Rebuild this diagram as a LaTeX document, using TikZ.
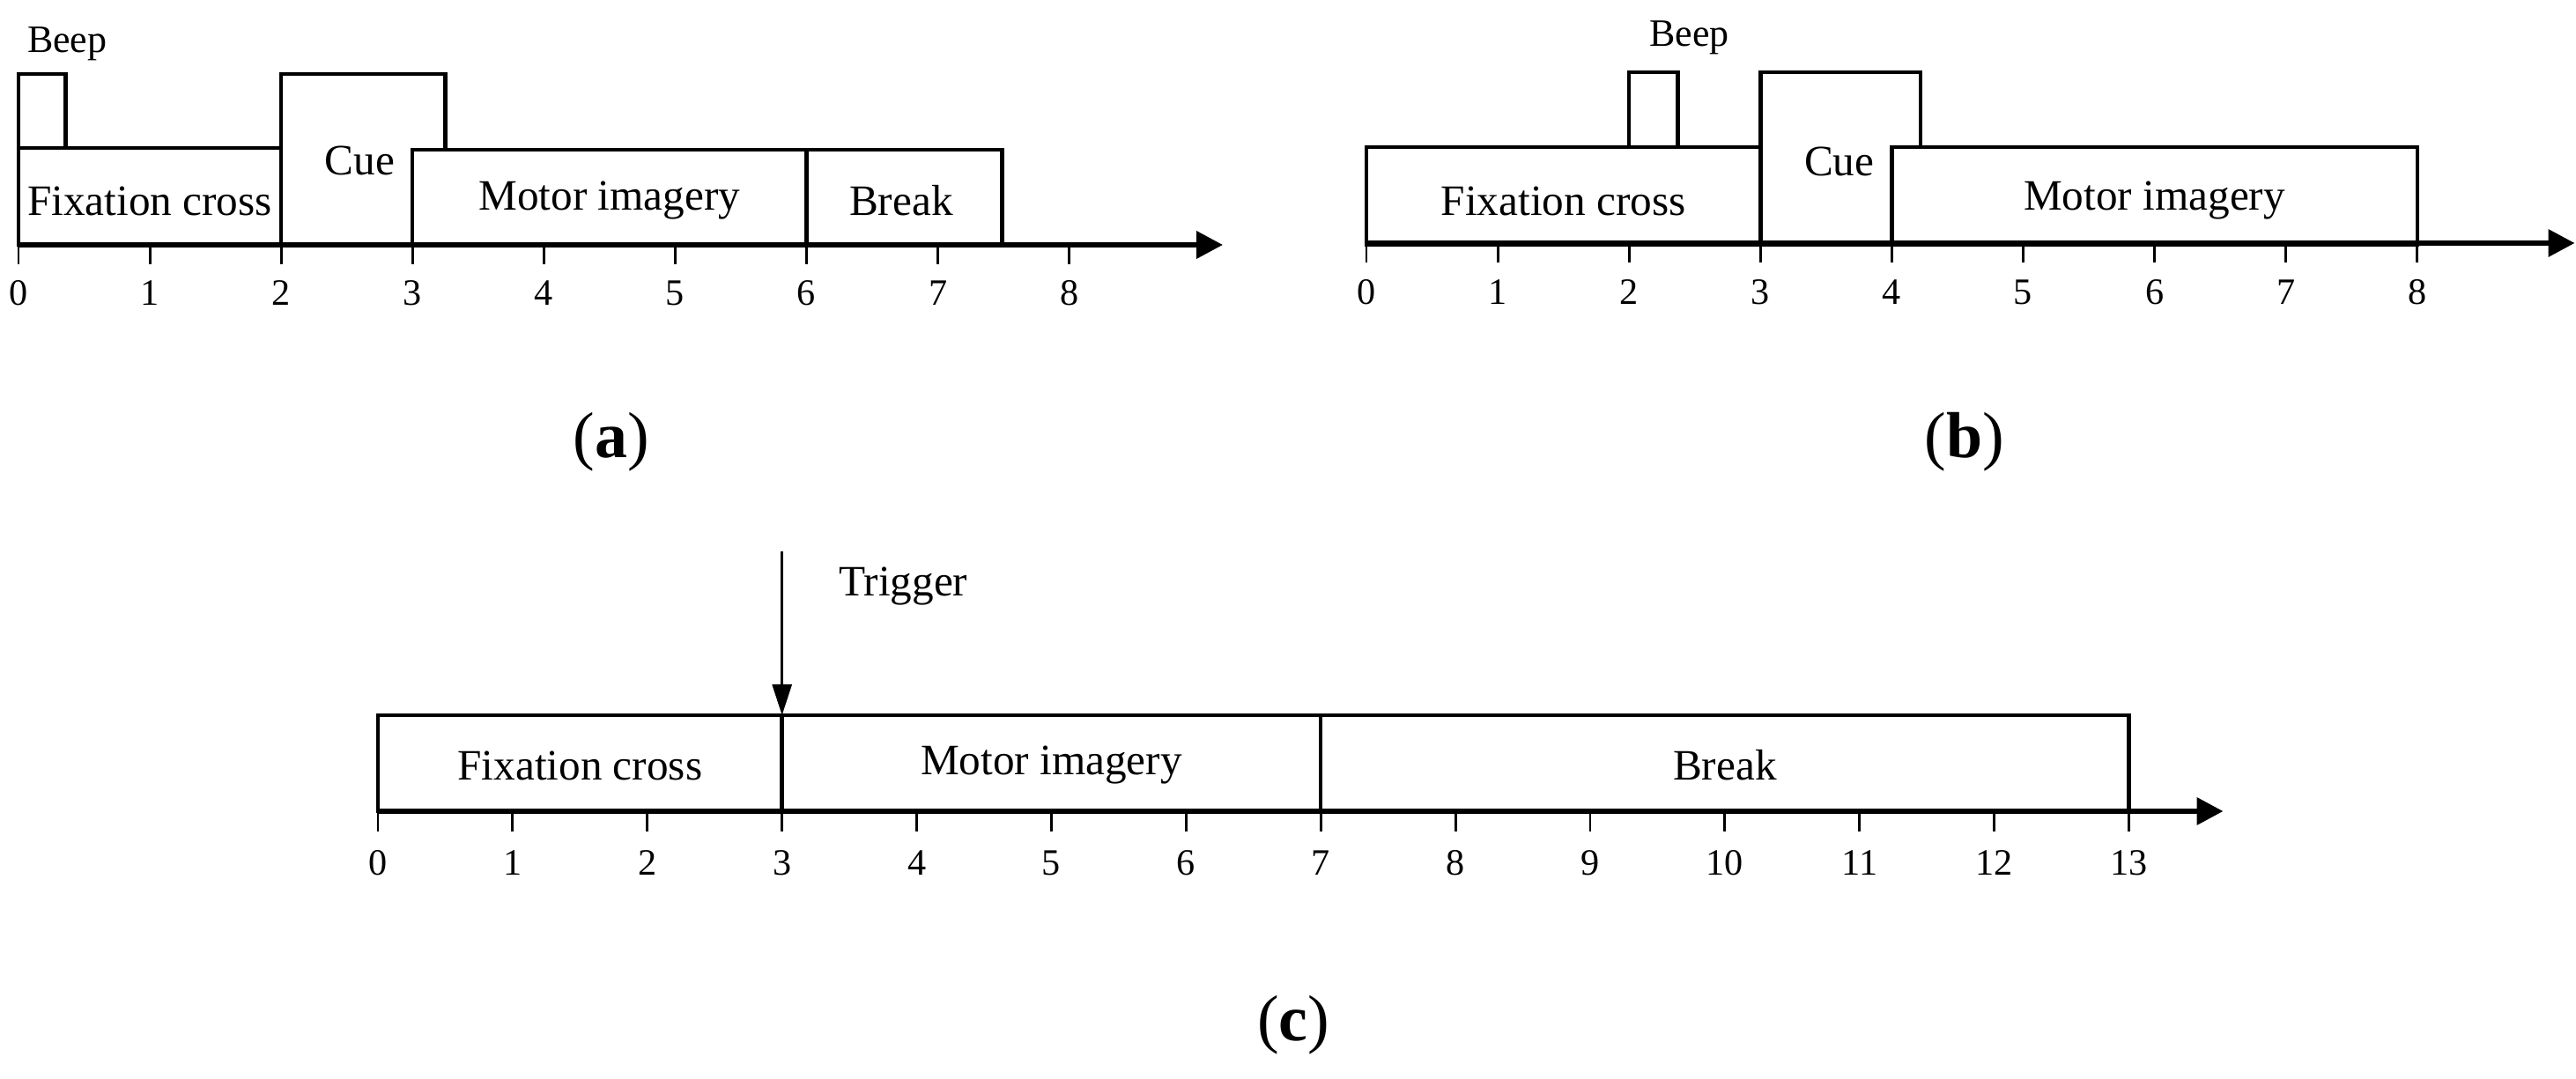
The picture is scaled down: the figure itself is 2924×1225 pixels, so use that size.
\documentclass[tikz,border=0pt]{standalone}
\usepackage{fontspec}
\setmainfont{Liberation Serif}
\usetikzlibrary{arrows.meta}
\begin{document}
\begin{tikzpicture}[x=0.01cm,y=-0.01cm,
  box/.style={line width=4.5pt*0.28,draw=black,fill=white},
  axis/.style={line width=6.5pt*0.28,-{Triangle[length=0.3cm,width=0.3cm]}},
  tick/.style={line width=3pt*0.28},
  lab/.style={font=\fontsize{14}{16}\selectfont,inner sep=0pt},
  num/.style={font=\fontsize{12}{14}\selectfont,inner sep=0pt},
  subcap/.style={font=\fontsize{21}{24}\selectfont,inner sep=0pt}]
\useasboundingbox (0,0) rectangle (2924,1225);
% ---------- panel a ----------
\begin{scope}[shift={(21,0)},x=1.49cm]
  \draw[box] (0,278) rectangle (0.36,84);
  \draw[box] (0,278) rectangle (2,168);
  \draw[box] (2,278) rectangle (3.25,84);
  \draw[box] (3,278) rectangle (6,170);
  \draw[box] (6,278) rectangle (7.49,170);
  \coordinate (a0) at (0,278); \coordinate (a1) at (9.17,278);
  \draw[axis] (a0) -- (a1);
  \foreach \t in {0,...,8}{
    \draw[tick] (\t,278) -- (\t,300);
    \node[num] (an\t) at (\t,333) {\t};}
  \node[lab,font=\fontsize{12.5}{14}\selectfont] (abeep) at (0.37,50) {Beep};
  \node[lab] (afix) at (1.0,228) {Fixation cross};
  \node[lab] (acue) at (2.6,182) {Cue};
  \node[lab] (amot) at (4.5,228) {Motor imagery};
  \node[lab] (abrk) at (6.72,228) {Break};
\end{scope}
\node[subcap] (capa) at (694,502) {(\textbf{a})};
% ---------- panel b ----------
\begin{scope}[shift={(1551,0)},x=1.49cm]
  \draw[box] (2,278) rectangle (2.37,82);
  \draw[box] (0,278) rectangle (3,167);
  \draw[box] (3,278) rectangle (4.22,82);
  \draw[box] (4,278) rectangle (8,167);
  \coordinate (b0) at (0,276); \coordinate (b1) at (9.2,276);
  \draw[axis] (b0) -- (b1);
  \foreach \t in {0,...,8}{
    \draw[tick] (\t,276) -- (\t,298);
    \node[num] (bn\t) at (\t,332) {\t};}
  \node[lab,font=\fontsize{12.5}{14}\selectfont] (bbeep) at (2.46,43) {Beep};
  \node[lab] (bfix) at (1.5,228) {Fixation cross};
  \node[lab] (bcue) at (3.6,183) {Cue};
  \node[lab] (bmot) at (6.0,228) {Motor imagery};
\end{scope}
\node[subcap] (capb) at (2230,502) {(\textbf{b})};
% ---------- panel c ----------
\begin{scope}[shift={(429,0)},x=1.528cm]
  \draw[box] (0,921) rectangle (3,812);
  \draw[box] (3,921) rectangle (7,812);
  \draw[box] (7,921) rectangle (13,812);
  \coordinate (c0) at (0,921); \coordinate (c1) at (13.7,921);
  \draw[axis] (c0) -- (c1);
  \foreach \t in {0,...,13}{
    \draw[tick] (\t,921) -- (\t,944);
    \node[num] (cn\t) at (\t,980) {\t};}
  \coordinate (trgtop) at (3,626);
  \coordinate (trgbot) at (3,812);
  \draw[line width=3pt*0.28,-{Triangle[length=0.35cm,width=0.22cm]}] (trgtop) -- (trgbot);
  \node[lab] (trig) at (3.9,666) {Trigger};
  \node[lab] (cfix) at (1.5,869) {Fixation cross};
  \node[lab] (cmot) at (5.0,869) {Motor imagery};
  \node[lab] (cbrk) at (10.0,869) {Break};
\end{scope}
\node[subcap] (capc) at (1468,1164) {(\textbf{c})};
\end{tikzpicture}
\end{document}
